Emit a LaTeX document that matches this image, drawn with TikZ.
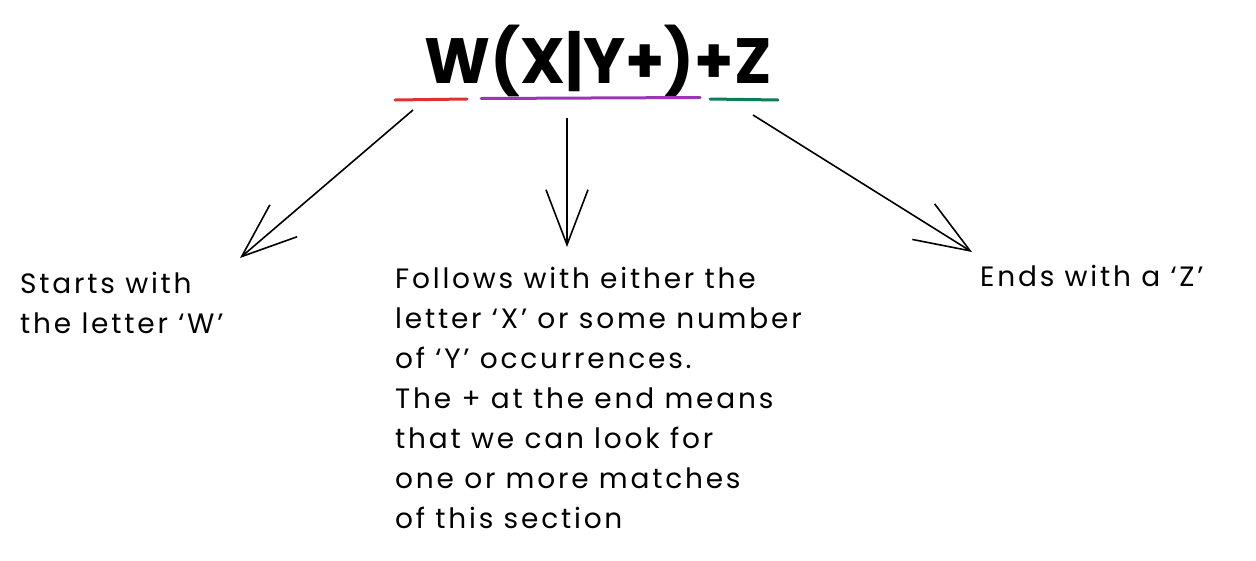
\documentclass[tikz,border=0pt]{standalone}
\usepackage{fontspec}
\setmainfont{Poppins}
\newfontfamily\hand[LetterSpace=10]{Poppins}
\usetikzlibrary{arrows.meta}
\definecolor{exred}{RGB}{224,49,49}
\definecolor{expurple}{RGB}{156,54,181}
\definecolor{exgreen}{RGB}{8,127,91}
\begin{document}
\begin{tikzpicture}[x=1pt,y=-1pt,
  txt/.style={anchor=base west,inner sep=0pt,font=\hand\fontsize{28}{40}\selectfont,align=left},
  conn/.style={line width=1.6pt,-{Straight Barb[length=55pt,width=42pt,line width=1.6pt]}},
  uline/.style={line width=3pt,line cap=round}]
\useasboundingbox[fill=white] (0,0) rectangle (1256,560);
\node[anchor=base,inner sep=0pt,font=\fontsize{64}{70}\selectfont\bfseries] (title) at (598,83) {\scalebox{0.98}[1]{W(X|Y+)+Z}};
\draw[uline,exred] (395,100) -- (467,99);
\draw[uline,expurple] (481,98.5) -- (700,97.5);
\draw[uline,exgreen] (710,99) -- (778,100);
\coordinate (s1) at (413,110);
\coordinate (s2) at (567,118);
\coordinate (s3) at (753,115);
\coordinate (t1) at (240,258);
\coordinate (t2) at (567,247);
\coordinate (t3) at (972,252);
\draw[conn] (s1) -- (t1);
\draw[conn] (s2) -- (t2);
\draw[conn] (s3) -- (t3);
\node[txt] (left) at (20,333) {Starts with\\the letter ‘W’};
\node[txt] (mid) at (395,528) {Follows with either the\\letter ‘X’ or some number\\of ‘Y’ occurrences.\\The + at the end means\\that we can look for\\one or more matches\\of this section};
\node[txt] (right) at (980,286) {Ends with a ‘Z’};
\end{tikzpicture}
\end{document}
